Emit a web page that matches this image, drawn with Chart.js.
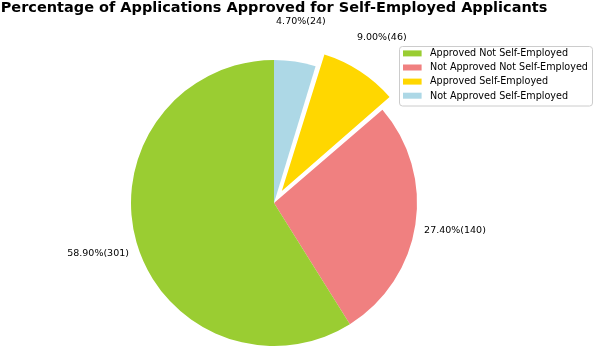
<!DOCTYPE html>
<html><head><meta charset="utf-8">
<script src="https://cdn.jsdelivr.net/npm/chart.js@4.4.1/dist/chart.umd.min.js"></script>
<style>html,body{margin:0;padding:0;background:#fff}canvas{display:block}</style>
</head><body>
<canvas id="c" width="598" height="355"></canvas>
<script>
const categories = ["Approved Not Self-Employed", "Not Approved Not Self-Employed", "Approved Self-Employed", "Not Approved Self-Employed"];
const counts = [301, 140, 46, 24];
const percents = [58.90, 27.40, 9.00, 4.70];
const colors = ["#9ACD32", "#F08080", "#FFD700", "#ADD8E6"];
const explode = [0, 0, 0.1, 0];
const titleText = "Percentage of Applications Approved for Self-Employed Applicants";

const FONT = "'DejaVu Sans', sans-serif";
const PIE_R = 143;
const LABEL_DIST = 1.28;

// matplotlib draws counter-clockwise from 12 o'clock; Chart.js clockwise -> reverse order
const rev = a => a.slice().reverse();
const chartLabels = rev(categories);
const chartValues = rev(counts);
const chartColors = rev(colors);
const chartOffsets = rev(explode).map(e => e * PIE_R * 4);

const fixExplode = {
  id: 'fixExplode',
  afterDatasetUpdate(chart, args) {
    args.meta.data.forEach(arc => {
      const off = ((arc.options && arc.options.offset) || 0) / 4;
      if (off) {
        const fix = 1 - Math.sin(Math.min(Math.PI, arc.circumference || 0));
        arc.outerRadius = arc.outerRadius - off * fix;
      }
    });
  }
};

const sliceLabels = {
  id: 'sliceLabels',
  afterDatasetsDraw(chart) {
    const meta = chart.getDatasetMeta(0);
    const ctx = chart.ctx;
    const R = meta.controller.outerRadius;
    const n = categories.length;
    ctx.save();
    ctx.font = "9.5px " + FONT;
    ctx.fillStyle = "#000";
    ctx.textAlign = "center";
    ctx.textBaseline = "middle";
    meta.data.forEach((arc, i) => {
      const k = n - 1 - i;
      const mid = (arc.startAngle + arc.endAngle) / 2;
      const off = ((arc.options && arc.options.offset) || 0) / 4;
      const d = off + LABEL_DIST * R;
      const x = arc.x + Math.cos(mid) * d;
      const y = arc.y + Math.sin(mid) * d;
      ctx.fillText(percents[k].toFixed(2) + "%(" + counts[k] + ")", x, y);
    });
    ctx.restore();
  }
};

const boxLegend = {
  id: 'boxLegend',
  afterDraw(chart) {
    const ctx = chart.ctx;
    const W = chart.width;
    const x0 = 399, y0 = 46, w = W - 6 - x0, h = 59.5;
    ctx.save();
    ctx.beginPath();
    if (ctx.roundRect) ctx.roundRect(x0 + 0.5, y0 + 0.5, w, h, 3); else ctx.rect(x0 + 0.5, y0 + 0.5, w, h);
    ctx.fillStyle = "rgba(255,255,255,0.8)";
    ctx.fill();
    ctx.strokeStyle = "#cccccc";
    ctx.lineWidth = 1;
    ctx.stroke();
    ctx.font = "9.65px " + FONT;
    ctx.textBaseline = "middle";
    ctx.textAlign = "left";
    categories.forEach((c, i) => {
      const cy = 53.4 + i * 14.1;
      ctx.fillStyle = colors[i];
      ctx.fillRect(403, cy - 3, 18.6, 6);
      ctx.fillStyle = "#000";
      ctx.fillText(c, 430, cy + 0.3);
    });
    ctx.restore();
  }
};

new Chart(document.getElementById('c'), {
  type: 'pie',
  data: {
    labels: chartLabels,
    datasets: [{
      data: chartValues,
      backgroundColor: chartColors,
      borderWidth: 0,
      offset: chartOffsets
    }]
  },
  options: {
    responsive: false,
    animation: false,
    events: [],
    radius: PIE_R,
    layout: { padding: { left: 0, right: 50, top: 0, bottom: 0 } },
    plugins: {
      legend: { display: false },
      tooltip: { enabled: false },
      title: {
        display: true,
        text: titleText,
        color: "#000",
        font: { family: FONT, size: 14.5, weight: 'bold', lineHeight: 1.15 },
        padding: { top: 0, bottom: 34.3 }
      }
    }
  },
  plugins: [fixExplode, sliceLabels, boxLegend]
});
</script>
</body></html>
